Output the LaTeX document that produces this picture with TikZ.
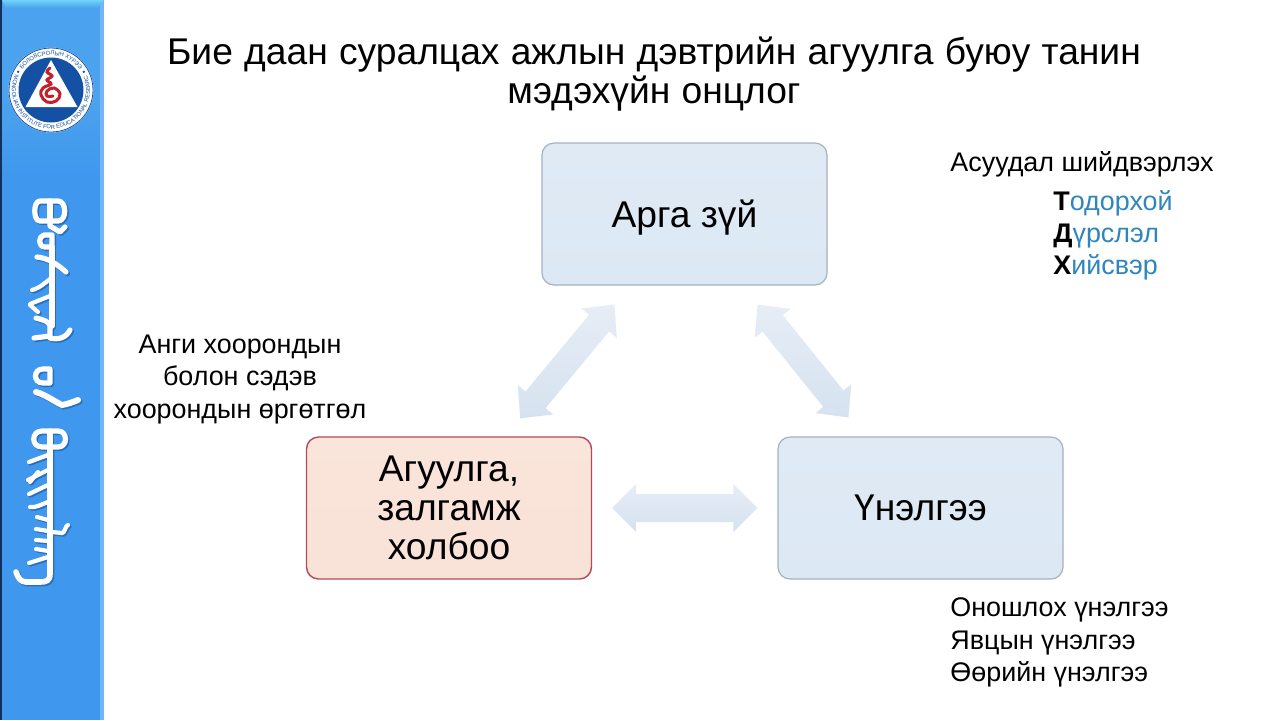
\documentclass[tikz,border=0pt]{standalone}
\usepackage{fontspec}
\setmainfont{Liberation Sans}
\newfontfamily\titlefont[WordSpace=1.09]{Liberation Sans}
\usetikzlibrary{calc,decorations.text}
\definecolor{sidemain}{HTML}{3F97EE}
\definecolor{sidetop}{HTML}{4BA2EE}
\definecolor{sidelight}{HTML}{6FD3F7}
\definecolor{sidedark}{HTML}{12305A}
\definecolor{sideedge}{HTML}{74B6F2}
\definecolor{logoblue}{HTML}{1450A3}
\definecolor{logored}{HTML}{C4202C}
\definecolor{sideshadow}{HTML}{2A6FBF}
\definecolor{bluebox}{HTML}{DCE8F3}
\definecolor{blueboxlight}{HTML}{DFEAF5}
\definecolor{blueedge}{HTML}{A5B2C0}
\definecolor{redbox}{HTML}{F9E2D7}
\definecolor{redboxlight}{HTML}{FAE5DB}
\definecolor{rededge}{HTML}{B34A5A}
\definecolor{arrowtop}{HTML}{E6EDF6}
\definecolor{arrowbot}{HTML}{D6E2F0}
\definecolor{hintblue}{HTML}{2F86BC}
\tikzset{
  x=0.5pt,y=-0.5pt,
  box/.style={rounded corners=6pt,minimum width=142.5pt,minimum height=71pt,inner sep=0pt,align=center,font=\fontsize{18.6}{19.5}\selectfont},
  bluenode/.style={box,draw=blueedge,line width=0.6pt,top color=blueboxlight,bottom color=bluebox},
  rednode/.style={box,draw=rededge,line width=0.7pt,top color=redboxlight,bottom color=redbox},
  lbl/.style={inner sep=0pt,font=\fontsize{13.45}{16.1}\selectfont},
  blockfill/.style={top color=arrowtop,bottom color=arrowbot,draw=none},
  stroke/.style={line cap=round,line join=round,line width=2.6pt},
  toothline/.style={line cap=round,line width=2.1pt},
}
% double block arrow between two named points: #1,#2 ends; #3 half head width, #4 half shaft width, #5 head length
\newcommand{\blockarrow}[5]{
  \coordinate (ha) at ($(#1)!#5!(#2)$);
  \coordinate (hb) at ($(#2)!#5!(#1)$);
  \path[blockfill] (#1)
    -- ($(ha)!#3!90:(#2)$) -- ($(ha)!#4!90:(#2)$)
    -- ($(hb)!#4!-90:(#1)$) -- ($(hb)!#3!-90:(#1)$)
    -- (#2)
    -- ($(hb)!#3!90:(#1)$) -- ($(hb)!#4!90:(#1)$)
    -- ($(ha)!#4!-90:(#2)$) -- ($(ha)!#3!-90:(#2)$) -- cycle;
}
\newcommand{\scriptglyphs}[1]{
  \begin{scope}[#1]
    % first word
    \draw[stroke] (40,201) .. controls (33,201) and (33,221) .. (40,221) -- (58,221) .. controls (67,221) and (67,201) .. (58,201) -- cycle;
    \draw[stroke] (50,201) -- (50,221);
    \draw[stroke] (50,221) -- (50,226) -- (60,232) -- (65,227);
    \draw[stroke] (44,235) .. controls (38,236) and (38,247) .. (45,247) -- (52,247) -- (52,235) -- cycle;
    \draw[stroke] (37,257) .. controls (47,258) and (56,263) .. (66,272);
    \draw[stroke] (52,247) -- (52,326);
    \draw[toothline] (32,290) .. controls (40,288) and (46,282) .. (50,279);
    \draw[toothline] (30,304) -- (50,296);
    \draw[toothline] (30,305) -- (38,312);
    \draw[stroke] (36,318) .. controls (44,320) and (50,322) .. (50,326) -- (50,336) -- (34,338);
    \draw[stroke] (50,338) .. controls (58,340) and (66,338) .. (70,330);
    % second word
    \draw[stroke] (43,369) .. controls (33,369) and (33,383) .. (43,383) -- (50,383) -- (50,369) -- cycle;
    \draw[line cap=round,line width=3pt] (36,392) .. controls (46,395) and (52,400) .. (62,405) .. controls (68,404) and (73,402) .. (78,400);
    % third word
    \draw[stroke] (42,431) .. controls (31,431) and (31,447) .. (42,447) -- (58,447) .. controls (68,447) and (68,431) .. (58,431) -- cycle;
    \draw[stroke] (50,431) -- (50,447);
    \draw[line width=2.8pt,line cap=round,line join=round] (50,447) -- (50,574) .. controls (50,581) and (46,582) .. (40,582) -- (26,582) .. controls (21,582) and (18,578) .. (16,572);
    \draw[toothline] (29,462) -- (48,455);
    \draw[toothline] (28,480) -- (48,470);
    \draw[toothline] (30,482) -- (38,472);
    \draw[toothline] (29,494) -- (48,485);
    \draw[toothline] (30,507) .. controls (36,508) and (42,504) .. (48,502);
    \draw[toothline] (37,517) -- (48,520);
    \draw[toothline] (36,529) -- (48,531);
    \draw[toothline] (36,540) -- (48,541);
    \draw[toothline] (36,549) -- (48,551);
    \draw[toothline] (29,563) -- (48,557);
    \draw[toothline] (52,532) -- (62,533) .. controls (65,533) and (65,526) .. (68,525);
  \end{scope}
}
\begin{document}
\begin{tikzpicture}
\useasboundingbox (0,0) rectangle (1280,720);
\fill[white] (0,0) rectangle (1280,720);
% side panel
\fill[sidemain] (2,120) rectangle (100,720);
\fill[sidetop] (2,0) rectangle (100,120);
\shade[top color=sidetop,bottom color=sidemain] (2,100) rectangle (100,180);
\fill[sideedge] (100,0) rectangle (103.5,720);
\fill[sidedark] (0,0) rectangle (2,720);
\shade[top color=sidelight,bottom color=sidetop] (2,0) -- (103.5,0) -- (98,8) -- (6,8) -- cycle;
% logo
\fill[white] (51,90) circle[radius=42.5];
\draw[logoblue,line width=0.4pt] (51,90) circle[radius=42];
\fill[logoblue] (51,90) circle[radius=32.5];
\fill[white] (51,60) -- (25.5,107) -- (77.5,107) -- cycle;
\draw[logored,line width=1.5pt,line cap=round] plot[smooth,tension=0.7] coordinates {(50,68) (47,72) (52,76) (47,80) (51,84) (43,88) (41,95) (47,102) (56,101) (60,94) (54,88) (47,91) (47,96) (53,96)};
\path[decorate,decoration={text along path,text align=fit to path,text={|\fontsize{2.9}{3}\selectfont\color{logoblue}|БОЛОВСРОЛЫН ХҮРЭЭЛЭН}}]
  ($(51,90)+(-145:35)$) arc[start angle=-145,end angle=-35,radius=35];
\path[decorate,decoration={text along path,text align=fit to path,text={|\fontsize{2.9}{3}\selectfont\color{logoblue}|MONGOLIAN INSTITUTE FOR EDUCATIONAL RESEARCH}}]
  ($(51,90)+(203:39)$) arc[start angle=203,end angle=-23,radius=39];
\fill[logoblue] ($(51,90)+(-151:37.5)$) circle[radius=1.3];
\fill[logoblue] ($(51,90)+(-29:37.5)$) circle[radius=1.3];
% Mongolian-script lettering, drawn
\scriptglyphs{shift={(1.5,1.5)},color=sideshadow}
\scriptglyphs{color=white}
% title
\node[name=title,inner sep=0pt,align=center,font=\titlefont\fontsize{18.6}{19.8}\selectfont] at (654,74) {Бие даан суралцах ажлын дэвтрийн агуулга буюу танин\\мэдэхүйн онцлог};
% boxes
\node[bluenode] (arga) at (684.5,214) {\rule{0pt}{17pt}Арга зүй};
\node[rednode] (aguulga) at (449,508) {Агуулга,\\залгамж\\холбоо};
\node[bluenode] (unelgee) at (920.5,508) {Үнэлгээ};
% arrows
\coordinate (a1) at ($(arga.south west)+(73,19)$);
\coordinate (a2) at ($(aguulga.north east)+(-72,-18)$);
\coordinate (b1) at ($(arga.south east)+(-70,19)$);
\coordinate (b2) at ($(unelgee.north west)+(71,-19)$);
\coordinate (c1) at ($(aguulga.east)+(20,0)$);
\coordinate (c2) at ($(unelgee.west)+(-20,0)$);
\blockarrow{a1}{a2}{11.5pt}{6.5pt}{12pt}
\blockarrow{b1}{b2}{11.5pt}{6.5pt}{12pt}
\blockarrow{c1}{c2}{12pt}{7pt}{12pt}
% labels
\node[lbl,align=center,name=left] at (240,379.5) {Анги хоорондын\\болон сэдэв\\хоорондын өргөтгөл};
\node[lbl,anchor=west,name=asuudal] at (950,164) {Асуудал шийдвэрлэх};
\node[lbl,anchor=west,align=left,name=tdh] at (1053,235) {\textbf{Т}\textcolor{hintblue}{одорхой}\\\textbf{Д}\textcolor{hintblue}{үрслэл}\\\textbf{Х}\textcolor{hintblue}{ийсвэр}};
\node[lbl,anchor=west,align=left,name=eval] at (950,642.5) {Оношлох үнэлгээ\\Явцын үнэлгээ\\Өөрийн үнэлгээ};
\end{tikzpicture}
\end{document}
